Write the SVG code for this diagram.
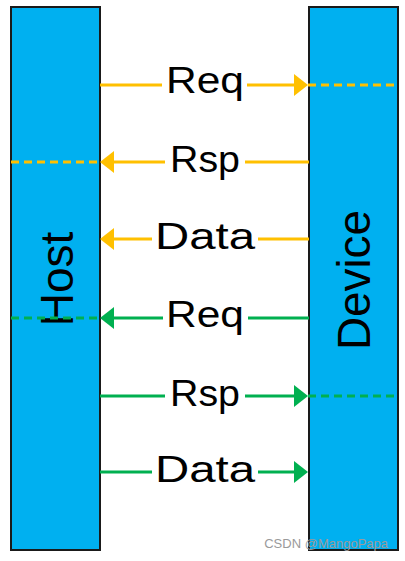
<svg xmlns="http://www.w3.org/2000/svg" width="405" height="561" viewBox="0 0 405 561">
<style>
.node{fill:#00B0F0;stroke:#1a1a1a;stroke-width:2}
.title{font-family:"Liberation Sans",Arial,sans-serif;font-size:46px;fill:#000}
.lbl{font-family:"Liberation Sans",Arial,sans-serif;font-size:36px;fill:#000;text-anchor:middle}
.bg{fill:#fff}
.or{stroke:#FFC000;stroke-width:3;fill:none}
.gr{stroke:#00B050;stroke-width:3;fill:none}
.dash{stroke-dasharray:8 5}
</style>
<defs>
<marker id="ahO" markerUnits="userSpaceOnUse" markerWidth="14" markerHeight="22" refX="6" refY="11" orient="auto" overflow="visible">
<path d="M0,0 L14,11 L0,22 Z" fill="#FFC000"/>
</marker>
<marker id="ahG" markerUnits="userSpaceOnUse" markerWidth="14" markerHeight="22" refX="6" refY="11" orient="auto" overflow="visible">
<path d="M0,0 L14,11 L0,22 Z" fill="#00B050"/>
</marker>
</defs>
<rect width="405" height="561" fill="#fff"/>
<g id="host">
<rect class="node" x="11" y="7" width="89" height="543"/>
<text class="title" transform="translate(73,279) rotate(-90)" text-anchor="middle">Host</text>
</g>
<g id="device">
<rect class="node" x="309" y="7" width="89" height="543"/>
<text class="title" transform="translate(370,280) rotate(-90)" text-anchor="middle" textLength="140" lengthAdjust="spacingAndGlyphs">Device</text>
</g>
<g id="connectors">
<line class="or" x1="100" y1="85" x2="300" y2="85" marker-end="url(#ahO)"/>
<line class="or dash" x1="308" y1="85" x2="398" y2="85"/>
<rect class="bg" x="162" y="64" width="85" height="40"/>
<text class="lbl" x="205" y="93" textLength="78" lengthAdjust="spacingAndGlyphs">Req</text>

<line class="or" x1="309" y1="162" x2="108" y2="162" marker-end="url(#ahO)"/>
<line class="or dash" x1="11" y1="162" x2="100" y2="162"/>
<rect class="bg" x="165" y="141" width="80" height="44"/>
<text class="lbl" x="205" y="172" textLength="70" lengthAdjust="spacingAndGlyphs">Rsp</text>

<line class="or" x1="309" y1="239" x2="108" y2="239" marker-end="url(#ahO)"/>
<rect class="bg" x="152" y="218" width="106" height="40"/>
<text class="lbl" x="205" y="249" textLength="100" lengthAdjust="spacingAndGlyphs">Data</text>

<line class="gr" x1="309" y1="318" x2="108" y2="318" marker-end="url(#ahG)"/>
<line class="gr dash" x1="11" y1="318" x2="100" y2="318"/>
<rect class="bg" x="163" y="297" width="85" height="44"/>
<text class="lbl" x="205" y="327" textLength="78" lengthAdjust="spacingAndGlyphs">Req</text>

<line class="gr" x1="100" y1="396" x2="300" y2="396" marker-end="url(#ahG)"/>
<line class="gr dash" x1="308" y1="396" x2="398" y2="396"/>
<rect class="bg" x="165" y="375" width="80" height="44"/>
<text class="lbl" x="205" y="406" textLength="70" lengthAdjust="spacingAndGlyphs">Rsp</text>

<line class="gr" x1="100" y1="472" x2="300" y2="472" marker-end="url(#ahG)"/>
<rect class="bg" x="152" y="451" width="106" height="40"/>
<text class="lbl" x="205" y="482" textLength="100" lengthAdjust="spacingAndGlyphs">Data</text>
</g>
<text x="388" y="548" font-family="'Liberation Sans',Arial,sans-serif" font-size="13" fill="#9a9a9a" text-anchor="end">CSDN @MangoPapa</text>
</svg>
